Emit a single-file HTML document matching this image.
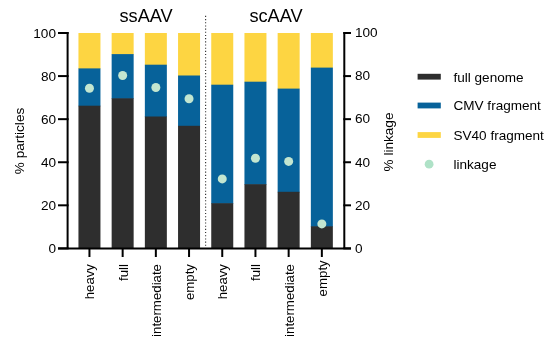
<!DOCTYPE html>
<html><head><meta charset="utf-8"><style>
html,body{margin:0;padding:0;background:#fff;}
body{width:550px;height:345px;overflow:hidden;}
svg{display:block;}
text{font-family:"Liberation Sans",Arial,sans-serif;fill:#000;}
.n{font-size:13.6px;}
.x{font-size:13.25px;}
.t{font-size:18.2px;}
.a{font-size:13.6px;}
.l{font-size:13.55px;}
</style></head><body>
<svg width="550" height="345" viewBox="0 0 550 345">
<rect width="550" height="345" fill="#fff"/>
<rect x="78.45" y="33.0" width="22.00" height="36.00" fill="#FDD542"/>
<rect x="78.45" y="68.4" width="22.00" height="37.90" fill="#07629A"/>
<rect x="78.45" y="105.7" width="22.00" height="142.70" fill="#2E2E2E"/>
<circle cx="89.45" cy="88.3" r="4.5" fill="#C3E6D0"/>
<rect x="111.65" y="33.0" width="22.00" height="21.70" fill="#FDD542"/>
<rect x="111.65" y="54.1" width="22.00" height="44.80" fill="#07629A"/>
<rect x="111.65" y="98.3" width="22.00" height="150.10" fill="#2E2E2E"/>
<circle cx="122.65" cy="75.5" r="4.5" fill="#C3E6D0"/>
<rect x="144.85" y="33.0" width="22.00" height="32.30" fill="#FDD542"/>
<rect x="144.85" y="64.7" width="22.00" height="52.40" fill="#07629A"/>
<rect x="144.85" y="116.5" width="22.00" height="131.90" fill="#2E2E2E"/>
<circle cx="155.85" cy="87.5" r="4.5" fill="#C3E6D0"/>
<rect x="178.05" y="33.0" width="22.00" height="43.10" fill="#FDD542"/>
<rect x="178.05" y="75.5" width="22.00" height="50.90" fill="#07629A"/>
<rect x="178.05" y="125.8" width="22.00" height="122.60" fill="#2E2E2E"/>
<circle cx="189.05" cy="98.8" r="4.5" fill="#C3E6D0"/>
<rect x="211.25" y="33.0" width="22.00" height="52.30" fill="#FDD542"/>
<rect x="211.25" y="84.7" width="22.00" height="119.10" fill="#07629A"/>
<rect x="211.25" y="203.2" width="22.00" height="45.20" fill="#2E2E2E"/>
<circle cx="222.25" cy="178.9" r="4.5" fill="#C3E6D0"/>
<rect x="244.45" y="33.0" width="22.00" height="49.30" fill="#FDD542"/>
<rect x="244.45" y="81.7" width="22.00" height="103.10" fill="#07629A"/>
<rect x="244.45" y="184.2" width="22.00" height="64.20" fill="#2E2E2E"/>
<circle cx="255.45" cy="158.2" r="4.5" fill="#C3E6D0"/>
<rect x="277.65" y="33.0" width="22.00" height="56.20" fill="#FDD542"/>
<rect x="277.65" y="88.6" width="22.00" height="103.80" fill="#07629A"/>
<rect x="277.65" y="191.8" width="22.00" height="56.60" fill="#2E2E2E"/>
<circle cx="288.65" cy="161.4" r="4.5" fill="#C3E6D0"/>
<rect x="310.85" y="33.0" width="22.00" height="35.20" fill="#FDD542"/>
<rect x="310.85" y="67.6" width="22.00" height="159.30" fill="#07629A"/>
<rect x="310.85" y="226.3" width="22.00" height="22.10" fill="#2E2E2E"/>
<circle cx="321.85" cy="223.9" r="4.5" fill="#C3E6D0"/>
<line x1="205.6" y1="15.85" x2="205.6" y2="247" stroke="#333" stroke-width="1.15" stroke-dasharray="1.1 2.079"/>
<line x1="67.6" y1="32" x2="67.6" y2="249" stroke="#000" stroke-width="2"/>
<line x1="344.3" y1="32" x2="344.3" y2="249" stroke="#000" stroke-width="2"/>
<line x1="58" y1="248.4" x2="351" y2="248.4" stroke="#000" stroke-width="2"/>
<line x1="58" y1="248.40" x2="68.6" y2="248.40" stroke="#000" stroke-width="2"/>
<line x1="343.3" y1="248.40" x2="351" y2="248.40" stroke="#000" stroke-width="2"/>
<text x="56" y="253.20" text-anchor="end" class="n">0</text>
<text x="355" y="252.70" class="n">0</text>
<line x1="58" y1="205.32" x2="68.6" y2="205.32" stroke="#000" stroke-width="2"/>
<line x1="343.3" y1="205.32" x2="351" y2="205.32" stroke="#000" stroke-width="2"/>
<text x="56" y="210.12" text-anchor="end" class="n">20</text>
<text x="355" y="209.62" class="n">20</text>
<line x1="58" y1="162.24" x2="68.6" y2="162.24" stroke="#000" stroke-width="2"/>
<line x1="343.3" y1="162.24" x2="351" y2="162.24" stroke="#000" stroke-width="2"/>
<text x="56" y="167.04" text-anchor="end" class="n">40</text>
<text x="355" y="166.54" class="n">40</text>
<line x1="58" y1="119.16" x2="68.6" y2="119.16" stroke="#000" stroke-width="2"/>
<line x1="343.3" y1="119.16" x2="351" y2="119.16" stroke="#000" stroke-width="2"/>
<text x="56" y="123.96" text-anchor="end" class="n">60</text>
<text x="355" y="123.46" class="n">60</text>
<line x1="58" y1="76.08" x2="68.6" y2="76.08" stroke="#000" stroke-width="2"/>
<line x1="343.3" y1="76.08" x2="351" y2="76.08" stroke="#000" stroke-width="2"/>
<text x="56" y="80.88" text-anchor="end" class="n">80</text>
<text x="355" y="80.38" class="n">80</text>
<line x1="58" y1="33.00" x2="68.6" y2="33.00" stroke="#000" stroke-width="2"/>
<line x1="343.3" y1="33.00" x2="351" y2="33.00" stroke="#000" stroke-width="2"/>
<text x="56" y="37.80" text-anchor="end" class="n">100</text>
<text x="355" y="37.30" class="n">100</text>
<line x1="89.45" y1="248" x2="89.45" y2="257" stroke="#000" stroke-width="2"/>
<text transform="translate(94.45,264) rotate(-90)" text-anchor="end" class="x">heavy</text>
<line x1="122.65" y1="248" x2="122.65" y2="257" stroke="#000" stroke-width="2"/>
<text transform="translate(127.65,264) rotate(-90)" text-anchor="end" class="x">full</text>
<line x1="155.85" y1="248" x2="155.85" y2="257" stroke="#000" stroke-width="2"/>
<text transform="translate(160.85,264) rotate(-90)" text-anchor="end" class="x">intermediate</text>
<line x1="189.05" y1="248" x2="189.05" y2="257" stroke="#000" stroke-width="2"/>
<text transform="translate(194.05,264) rotate(-90)" text-anchor="end" class="x">empty</text>
<line x1="222.25" y1="248" x2="222.25" y2="257" stroke="#000" stroke-width="2"/>
<text transform="translate(227.25,264) rotate(-90)" text-anchor="end" class="x">heavy</text>
<line x1="255.45" y1="248" x2="255.45" y2="257" stroke="#000" stroke-width="2"/>
<text transform="translate(260.45,264) rotate(-90)" text-anchor="end" class="x">full</text>
<line x1="288.65" y1="248" x2="288.65" y2="257" stroke="#000" stroke-width="2"/>
<text transform="translate(293.65,264) rotate(-90)" text-anchor="end" class="x">intermediate</text>
<line x1="321.85" y1="248" x2="321.85" y2="257" stroke="#000" stroke-width="2"/>
<text transform="translate(326.85,260.3) rotate(-90)" text-anchor="end" class="x">empty</text>
<text x="146.1" y="22.2" text-anchor="middle" class="t">ssAAV</text>
<text x="276" y="22.2" text-anchor="middle" class="t">scAAV</text>
<text transform="translate(24.2,141) rotate(-90)" text-anchor="middle" class="a">% particles</text>
<text transform="translate(392.5,142) rotate(-90)" text-anchor="middle" class="a">% linkage</text>
<rect x="417.6" y="73.80" width="23.2" height="5.8" fill="#2E2E2E"/>
<text x="453.5" y="81.6" class="l">full genome</text>
<rect x="417.6" y="102.60" width="23.2" height="5.8" fill="#07629A"/>
<text x="453.5" y="110.4" class="l">CMV fragment</text>
<rect x="417.6" y="132.10" width="23.2" height="5.8" fill="#FDD542"/>
<text x="453.5" y="139.9" class="l">SV40 fragment</text>
<circle cx="429.1" cy="164.2" r="4.4" fill="#AFE2C7"/>
<text x="453.5" y="168.9" class="l">linkage</text>
</svg>
</body></html>
